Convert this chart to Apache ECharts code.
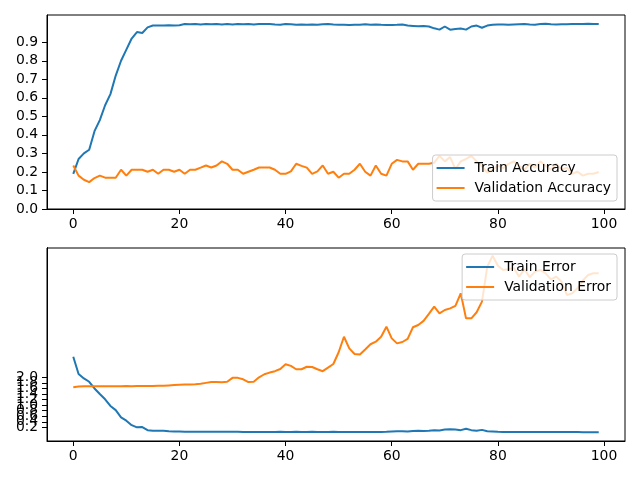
<!DOCTYPE html>
<html>
<head>
<meta charset="utf-8">
<script src="https://cdn.jsdelivr.net/npm/echarts@6/dist/echarts.min.js"></script>
<style>html,body{margin:0;padding:0;background:#fff;}#c{width:640px;height:480px;}</style>
</head>
<body>
<div id="c"></div>
<script>
const epochs = Array.from({length: 100}, (_, i) => i);
const xTicks = [0, 20, 40, 60, 80, 100];
const accTicks = [0.0, 0.1, 0.2, 0.3, 0.4, 0.5, 0.6, 0.7, 0.8, 0.9];
const errTicks = [0.2, 0.4, 0.6, 0.8, 1.0, 1.2, 1.4, 1.6, 1.8, 2.0];

const trainAcc = [0.19,0.27,0.30,0.32,0.42,0.48,0.56,0.62,0.72,0.80,
0.86,0.92,0.955,0.95,0.98,0.99,0.99,0.99,0.992,0.99,
0.992,0.998,0.997,0.998,0.996,0.998,0.997,0.999,0.996,0.998,
0.996,0.998,0.997,0.998,0.996,0.999,0.998,0.999,0.996,0.994,
0.998,0.997,0.994,0.996,0.995,0.996,0.994,0.997,0.998,0.996,
0.995,0.994,0.993,0.994,0.995,0.997,0.994,0.996,0.994,0.993,
0.993,0.994,0.996,0.99,0.988,0.986,0.987,0.985,0.975,0.968,
0.985,0.968,0.972,0.974,0.968,0.985,0.99,0.978,0.99,0.994,
0.996,0.996,0.995,0.996,0.997,0.998,0.996,0.995,0.998,1.0,
0.997,0.996,0.997,0.997,0.998,0.998,0.999,1.0,0.999,0.998];

const valAcc = [0.235,0.18,0.158,0.145,0.167,0.18,0.169,0.169,0.169,0.212,
0.18,0.212,0.212,0.212,0.201,0.212,0.19,0.212,0.212,0.201,
0.212,0.19,0.212,0.212,0.223,0.235,0.224,0.235,0.257,0.244,
0.212,0.212,0.19,0.201,0.212,0.224,0.224,0.224,0.212,0.19,
0.19,0.203,0.244,0.233,0.223,0.19,0.203,0.235,0.19,0.201,
0.169,0.19,0.19,0.212,0.244,0.201,0.18,0.235,0.19,0.18,
0.244,0.265,0.257,0.257,0.212,0.244,0.244,0.244,0.25,0.287,
0.257,0.28,0.215,0.257,0.27,0.287,0.257,0.23,0.197,0.21,
0.235,0.22,0.244,0.257,0.233,0.212,0.244,0.223,0.257,0.233,
0.212,0.244,0.212,0.223,0.19,0.201,0.18,0.19,0.19,0.2];

const trainErr = [2.74,2.12,1.96,1.84,1.60,1.40,1.21,0.97,0.82,0.56,
0.44,0.28,0.20,0.21,0.10,0.08,0.08,0.075,0.06,0.055,
0.05,0.045,0.045,0.04,0.04,0.04,0.04,0.04,0.04,0.04,
0.04,0.04,0.035,0.035,0.035,0.035,0.035,0.035,0.035,0.04,
0.035,0.035,0.04,0.035,0.035,0.04,0.035,0.035,0.035,0.04,
0.035,0.035,0.03,0.03,0.03,0.035,0.03,0.035,0.035,0.04,
0.05,0.06,0.06,0.05,0.07,0.08,0.07,0.08,0.1,0.09,
0.12,0.13,0.12,0.1,0.15,0.1,0.08,0.11,0.06,0.05,
0.04,0.035,0.035,0.03,0.03,0.03,0.035,0.03,0.03,0.03,
0.035,0.03,0.03,0.03,0.03,0.03,0.025,0.025,0.025,0.025];

const valErr = [1.64,1.67,1.68,1.68,1.68,1.68,1.68,1.68,1.68,1.68,
1.69,1.68,1.69,1.69,1.69,1.69,1.70,1.70,1.71,1.72,
1.73,1.74,1.74,1.75,1.77,1.80,1.83,1.83,1.82,1.84,
1.98,1.98,1.93,1.83,1.84,2.0,2.11,2.17,2.22,2.30,
2.47,2.41,2.29,2.29,2.38,2.37,2.29,2.22,2.35,2.48,
2.90,3.46,3.04,2.84,2.82,3.0,3.19,3.28,3.46,3.82,
3.40,3.22,3.27,3.38,3.80,3.88,4.03,4.28,4.54,4.30,
4.42,4.48,4.57,5.02,4.12,4.12,4.34,4.72,5.98,6.37,
6.01,5.86,5.89,5.93,5.62,5.89,5.6,5.8,5.86,5.74,
5.52,5.62,5.44,4.96,5.02,5.2,5.48,5.68,5.74,5.74];

const FONT = 'DejaVu Sans';
const BLUE = '#1f77b4', ORANGE = '#ff7f0e';
const pairs = arr => epochs.map((e, i) => [e, arr[i]]);

function xAxis(gi) {
  return {
    type: 'value', gridIndex: gi, min: -4.95, max: 103.95, position: 'bottom',
    axisLine: {show: true, onZero: false, lineStyle: {color: '#000', width: 1}}, splitLine: {show: false},
    axisTick: {show: true, length: 5, customValues: xTicks, lineStyle: {color: '#000', width: 1}},
    axisLabel: {customValues: xTicks, color: '#000', fontFamily: FONT, fontSize: 13.9, margin: 8}
  };
}
function yAxis(gi, min, max, ticks, labels) {
  return {
    type: 'value', gridIndex: gi, min: min, max: max, position: 'left', offset: 0,
    axisLine: {show: true, onZero: false, lineStyle: {color: '#000', width: 1}}, splitLine: {show: false},
    axisTick: {show: true, length: 5, customValues: ticks, lineStyle: {color: '#000', width: 1}},
    axisLabel: {customValues: labels, color: '#000', fontFamily: FONT, fontSize: 13.9, margin: 9,
      showMinLabel: true, showMaxLabel: true,
      formatter: v => Number(v).toFixed(1), hideOverlap: false}
  };
}
function legend(names, top) {
  return {
    data: names, orient: 'vertical', right: 23, top: top,
    icon: 'rect', itemWidth: 28, itemHeight: 2, itemGap: 6,
    padding: [6, 6, 6, 4],
    backgroundColor: 'rgba(255,255,255,0.8)', borderColor: '#cccccc', borderWidth: 1, borderRadius: 3,
    textStyle: {color: '#000', fontFamily: FONT, fontSize: 13.9, padding: [0, 0, 0, 5]},
    selectedMode: false
  };
}
function line(name, arr, color, xi, yi) {
  return {
    name: name, type: 'line', xAxisIndex: xi, yAxisIndex: yi, data: pairs(arr),
    symbol: 'none', showSymbol: false, smooth: false,
    lineStyle: {color: color, width: 2}, itemStyle: {color: color}, z: 2
  };
}

// bottom-axis tick labels are split over three stacked copies of the same axis so that
// the (overlapping) labels are all drawn, as in the original
const errLabelsA = errTicks.filter((_, i) => i % 3 === 0);
const errLabelsB = errTicks.filter((_, i) => i % 3 === 1);
const errLabelsC = errTicks.filter((_, i) => i % 3 === 2);

const chart = echarts.init(document.getElementById('c'), null, {renderer: 'canvas'});
chart.setOption({
  animation: false,
  backgroundColor: '#fff',
  grid: [
    {left: 47, top: 15, width: 578, height: 194, show: true, borderColor: '#000', borderWidth: 1, backgroundColor: 'transparent'},
    {left: 47, top: 248, width: 578, height: 193, show: true, borderColor: '#000', borderWidth: 1, backgroundColor: 'transparent'}
  ],
  xAxis: [xAxis(0), xAxis(1)],
  yAxis: [
    yAxis(0, 0, 1.047, accTicks, accTicks),
    yAxis(1, -0.29, 6.65, errTicks, errLabelsA),
    yAxis(1, -0.29, 6.65, errTicks, errLabelsB),
    yAxis(1, -0.29, 6.65, errTicks, errLabelsC)
  ],
  legend: [legend(['Train Accuracy', 'Validation Accuracy'], 155), legend(['Train Error', 'Validation Error'], 254)],
  series: [
    line('Train Accuracy', trainAcc, BLUE, 0, 0),
    line('Validation Accuracy', valAcc, ORANGE, 0, 0),
    line('Train Error', trainErr, BLUE, 1, 1),
    line('Validation Error', valErr, ORANGE, 1, 1)
  ]
});
</script>
</body>
</html>
